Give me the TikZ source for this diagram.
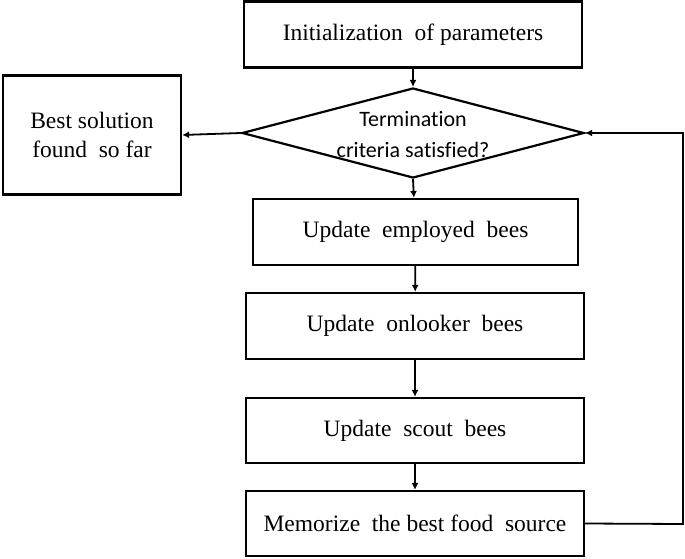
\documentclass[tikz,border=0pt]{standalone}
\usepackage{fontspec}
\setmainfont{Liberation Serif}
\newfontfamily\calfont[Ligatures=NoCommon]{Carlito}
\usetikzlibrary{arrows.meta,shapes.geometric}
\begin{document}
\begin{tikzpicture}[x=1pt,y=-1pt,
  box/.style={draw,line width=2.2pt,minimum width=#1,minimum height=66pt,inner sep=0pt,font=\fontsize{23.5}{29}\selectfont,align=center},
  box/.default=338pt,
  arr/.style={line width=1.8pt,-{Latex[length=7pt,width=7pt]}}]
\useasboundingbox (0,0) rectangle (685,559);
\node[box] (init) at (413,34.5) {Initialization\ \ of\ parameters};
\node[draw,line width=2.2pt,diamond,aspect=3.75,minimum width=342pt,minimum height=90pt,inner sep=0pt] (term) at (413,133) {};
\node[font=\calfont\fontsize{22}{31}\selectfont,align=center] at (413,135) {Termination\\criteria satisfied?};
\node[box,minimum width=178pt,minimum height=119pt] (best) at (92,135) {Best solution\\found\ \ so far};
\node[box=325pt] (emp) at (415.5,232) {Update\ \ employed\ \ bees};
\node[box] (onl) at (415,326) {Update\ \ onlooker\ \ bees};
\node[box,minimum height=65pt] (sco) at (415,430.5) {Update\ \ scout\ \ bees};
\node[box,minimum height=65pt] (mem) at (415,523.5) {Memorize\ \ the\ best\ food\ \ source};
\coordinate (c1) at (683,524);
\coordinate (c2) at (683,133);
\draw[arr] (init) -- (term.north);
\draw[arr] (term.south) -- (emp);
\draw[arr] (emp) -- (onl);
\draw[arr] (onl) -- (sco);
\draw[arr] (sco) -- (mem);
\draw[arr] (term.west) -- (best.east);
\draw[arr] (mem.east) -- (c1) -- (c2) -- (term.east);
\end{tikzpicture}
\end{document}
